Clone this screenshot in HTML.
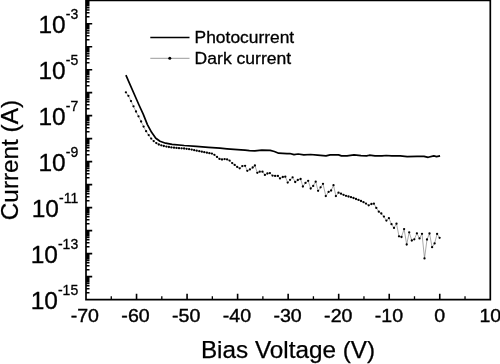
<!DOCTYPE html>
<html><head><meta charset="utf-8"><title>Current vs Bias Voltage</title>
<style>html,body{margin:0;padding:0;background:#fff;}body{width:500px;height:364px;overflow:hidden;}svg{display:block;}text{font-family:"Liberation Sans",Arial,Helvetica,sans-serif;fill:#000;}</style>
</head><body>
<svg width="500" height="364" viewBox="0 0 500 364">
<rect x="0" y="0" width="500" height="364" fill="#fff"/>
<g stroke="#000" stroke-width="1.7" fill="none" stroke-linecap="butt">
<path d="M85.15 0.5 H491.15000000000003 M490.3 0 V300.5 M85.15 299.65 H491.15000000000003 M86.0 0 V300.5"/>
</g>
<path d="M86.0 276.66 h6.2 M86.0 253.67 h6.2 M86.0 230.67 h6.2 M86.0 207.68 h6.2 M86.0 184.69 h6.2 M86.0 161.70 h6.2 M86.0 138.70 h6.2 M86.0 115.71 h6.2 M86.0 92.72 h6.2 M86.0 69.73 h6.2 M86.0 46.73 h6.2 M86.0 23.74 h6.2" stroke="#000" stroke-width="1.7" fill="none"/>
<path d="M86.0 292.73 h3.5 M86.0 288.68 h3.5 M86.0 285.81 h3.5 M86.0 283.58 h3.5 M86.0 281.76 h3.5 M86.0 280.22 h3.5 M86.0 278.89 h3.5 M86.0 277.71 h3.5 M86.0 269.74 h3.5 M86.0 265.69 h3.5 M86.0 262.81 h3.5 M86.0 260.59 h3.5 M86.0 258.77 h3.5 M86.0 257.23 h3.5 M86.0 255.89 h3.5 M86.0 254.72 h3.5 M86.0 246.74 h3.5 M86.0 242.70 h3.5 M86.0 239.82 h3.5 M86.0 237.59 h3.5 M86.0 235.77 h3.5 M86.0 234.23 h3.5 M86.0 232.90 h3.5 M86.0 231.73 h3.5 M86.0 223.75 h3.5 M86.0 219.70 h3.5 M86.0 216.83 h3.5 M86.0 214.60 h3.5 M86.0 212.78 h3.5 M86.0 211.24 h3.5 M86.0 209.91 h3.5 M86.0 208.73 h3.5 M86.0 200.76 h3.5 M86.0 196.71 h3.5 M86.0 193.84 h3.5 M86.0 191.61 h3.5 M86.0 189.79 h3.5 M86.0 188.25 h3.5 M86.0 186.92 h3.5 M86.0 185.74 h3.5 M86.0 177.77 h3.5 M86.0 173.72 h3.5 M86.0 170.85 h3.5 M86.0 168.62 h3.5 M86.0 166.80 h3.5 M86.0 165.26 h3.5 M86.0 163.92 h3.5 M86.0 162.75 h3.5 M86.0 154.77 h3.5 M86.0 150.73 h3.5 M86.0 147.85 h3.5 M86.0 145.63 h3.5 M86.0 143.80 h3.5 M86.0 142.27 h3.5 M86.0 140.93 h3.5 M86.0 139.76 h3.5 M86.0 131.78 h3.5 M86.0 127.73 h3.5 M86.0 124.86 h3.5 M86.0 122.63 h3.5 M86.0 120.81 h3.5 M86.0 119.27 h3.5 M86.0 117.94 h3.5 M86.0 116.76 h3.5 M86.0 108.79 h3.5 M86.0 104.74 h3.5 M86.0 101.87 h3.5 M86.0 99.64 h3.5 M86.0 97.82 h3.5 M86.0 96.28 h3.5 M86.0 94.95 h3.5 M86.0 93.77 h3.5 M86.0 85.80 h3.5 M86.0 81.75 h3.5 M86.0 78.88 h3.5 M86.0 76.65 h3.5 M86.0 74.83 h3.5 M86.0 73.29 h3.5 M86.0 71.96 h3.5 M86.0 70.78 h3.5 M86.0 62.81 h3.5 M86.0 58.76 h3.5 M86.0 55.88 h3.5 M86.0 53.66 h3.5 M86.0 51.84 h3.5 M86.0 50.30 h3.5 M86.0 48.96 h3.5 M86.0 47.79 h3.5 M86.0 39.81 h3.5 M86.0 35.76 h3.5 M86.0 32.89 h3.5 M86.0 30.66 h3.5 M86.0 28.84 h3.5 M86.0 27.30 h3.5 M86.0 25.97 h3.5 M86.0 24.79 h3.5 M86.0 16.82 h3.5 M86.0 12.77 h3.5 M86.0 9.90 h3.5 M86.0 7.67 h3.5 M86.0 5.85 h3.5 M86.0 4.31 h3.5 M86.0 2.98 h3.5 M86.0 1.80 h3.5" stroke="#000" stroke-width="1.5" fill="none"/>
<path d="M136.54 299.65 v-6 M187.07 299.65 v-6 M237.61 299.65 v-6 M288.15 299.65 v-6 M338.69 299.65 v-6 M389.23 299.65 v-6 M439.76 299.65 v-6" stroke="#000" stroke-width="1.6" fill="none"/>
<path d="M111.27 299.65 v-3.4 M161.81 299.65 v-3.4 M212.34 299.65 v-3.4 M262.88 299.65 v-3.4 M313.42 299.65 v-3.4 M363.96 299.65 v-3.4 M414.49 299.65 v-3.4 M465.03 299.65 v-3.4" stroke="#000" stroke-width="1.3" fill="none"/>
<text x="78.2" y="308.75" text-anchor="end" font-size="24.5" stroke="#000" stroke-width="0.3"><tspan>10</tspan><tspan font-size="14" dy="-13.5">-15</tspan></text>
<text x="78.2" y="262.77" text-anchor="end" font-size="24.5" stroke="#000" stroke-width="0.3"><tspan>10</tspan><tspan font-size="14" dy="-13.5">-13</tspan></text>
<text x="78.2" y="216.78" text-anchor="end" font-size="24.5" stroke="#000" stroke-width="0.3"><tspan>10</tspan><tspan font-size="14" dy="-13.5">-11</tspan></text>
<text x="78.2" y="170.80" text-anchor="end" font-size="24.5" stroke="#000" stroke-width="0.3"><tspan>10</tspan><tspan font-size="14" dy="-13.5">-9</tspan></text>
<text x="78.2" y="124.81" text-anchor="end" font-size="24.5" stroke="#000" stroke-width="0.3"><tspan>10</tspan><tspan font-size="14" dy="-13.5">-7</tspan></text>
<text x="78.2" y="78.83" text-anchor="end" font-size="24.5" stroke="#000" stroke-width="0.3"><tspan>10</tspan><tspan font-size="14" dy="-13.5">-5</tspan></text>
<text x="78.2" y="32.84" text-anchor="end" font-size="24.5" stroke="#000" stroke-width="0.3"><tspan>10</tspan><tspan font-size="14" dy="-13.5">-3</tspan></text>
<text x="84.85" y="321.8" text-anchor="middle" font-size="18.9" stroke="#000" stroke-width="0.4" textLength="28.3" lengthAdjust="spacingAndGlyphs">-70</text>
<text x="135.54" y="321.8" text-anchor="middle" font-size="18.9" stroke="#000" stroke-width="0.4" textLength="28.3" lengthAdjust="spacingAndGlyphs">-60</text>
<text x="186.22" y="321.8" text-anchor="middle" font-size="18.9" stroke="#000" stroke-width="0.4" textLength="28.3" lengthAdjust="spacingAndGlyphs">-50</text>
<text x="236.91" y="321.8" text-anchor="middle" font-size="18.9" stroke="#000" stroke-width="0.4" textLength="28.3" lengthAdjust="spacingAndGlyphs">-40</text>
<text x="287.60" y="321.8" text-anchor="middle" font-size="18.9" stroke="#000" stroke-width="0.4" textLength="28.3" lengthAdjust="spacingAndGlyphs">-30</text>
<text x="338.29" y="321.8" text-anchor="middle" font-size="18.9" stroke="#000" stroke-width="0.4" textLength="28.3" lengthAdjust="spacingAndGlyphs">-20</text>
<text x="388.98" y="321.8" text-anchor="middle" font-size="18.9" stroke="#000" stroke-width="0.4" textLength="28.3" lengthAdjust="spacingAndGlyphs">-10</text>
<text x="439.66" y="321.8" text-anchor="middle" font-size="18.9" stroke="#000" stroke-width="0.4" textLength="10.9" lengthAdjust="spacingAndGlyphs">0</text>
<text x="490.35" y="321.8" text-anchor="middle" font-size="18.9" stroke="#000" stroke-width="0.4" textLength="21.8" lengthAdjust="spacingAndGlyphs">10</text>
<text x="288" y="358" text-anchor="middle" font-size="24.3" stroke="#000" stroke-width="0.25">Bias Voltage (V)</text>
<text transform="translate(17.8 160.1) rotate(-90)" text-anchor="middle" font-size="24.3" stroke="#000" stroke-width="0.25">Current (A)</text>
<path d="M150.3 37.5 H189.5" stroke="#000" stroke-width="1.6" fill="none"/>
<path d="M150.3 58.3 H189.5" stroke="#555" stroke-width="0.6" fill="none"/>
<circle cx="169.8" cy="58.3" r="1.5" fill="#000"/>
<text x="194.6" y="42.6" font-size="16.6" stroke="#000" stroke-width="0.3" textLength="99.6" lengthAdjust="spacingAndGlyphs">Photocurrent</text>
<text x="194.6" y="64.1" font-size="16.6" stroke="#000" stroke-width="0.3" textLength="96.6" lengthAdjust="spacingAndGlyphs">Dark current</text>
<polyline fill="none" stroke="#000" stroke-width="1.7" stroke-linejoin="round" points="125.9,75.2 139.0,105.0 143.2,114.1 147.4,124.6 151.6,132.3 155.8,138.2 160.0,141.3 165.6,143.2 172.1,144.3 184.2,145.5 196.3,146.3 208.4,147.3 220.0,148.1 227.0,148.8 241.0,149.9 245.0,150.2 249.4,150.6 254.8,150.8 261.8,150.1 270.2,150.4 274.4,151.5 278.6,153.2 287.0,153.6 289.8,153.5 294.0,154.6 298.2,154.0 303.8,154.9 310.6,154.5 317.6,155.2 326.0,155.9 330.2,154.9 338.6,154.9 341.4,155.9 347.0,155.9 354.0,154.9 361.0,155.6 366.6,155.9 369.4,155.2 375.0,155.9 382.0,155.9 386.2,155.5 391.8,155.9 400.2,155.9 407.2,156.6 417.0,156.3 424.0,156.3 428.2,157.3 433.8,155.9 436.6,156.6 440.1,155.9"/>
<polyline fill="none" stroke="#555" stroke-width="0.5" points="125.9,92.3 128.4,95.8 131.0,101.1 133.5,106.3 136.0,111.5 138.5,116.3 141.1,121.5 143.6,126.6 146.1,131.2 148.7,135.1 151.2,138.6 153.7,141.1 156.3,143.1 158.8,144.5 161.3,145.3 163.8,146.0 166.4,146.6 168.9,147.0 171.4,147.4 174.0,147.7 176.5,147.9 179.0,148.2 181.6,148.3 184.1,148.5 186.6,148.8 189.1,149.2 191.7,149.6 194.2,150.2 196.7,150.7 199.3,151.2 201.8,151.7 204.3,152.2 206.9,152.7 209.4,153.2 211.9,153.6 214.4,154.8 217.0,156.9 219.5,158.9 222.0,159.5 224.6,159.1 227.1,159.4 229.6,160.6 232.2,163.1 234.7,164.9 237.2,166.9 239.7,168.3 242.3,166.1 245.1,165.8 247.3,170.8 249.9,169.4 252.7,167.5 254.9,165.5 257.3,172.8 259.7,171.7 262.5,171.7 264.9,174.9 267.4,173.5 269.9,173.1 272.5,175.6 275.1,175.9 277.9,175.9 280.0,178.4 282.8,177.0 285.3,176.7 287.7,182.6 290.1,179.8 292.6,177.3 295.2,182.0 297.8,180.0 300.6,179.0 302.9,186.5 305.5,182.9 308.2,180.8 310.7,188.5 313.2,185.9 315.7,181.7 318.1,190.8 320.6,187.3 323.0,183.8 325.8,196.1 328.6,191.9 331.1,190.5 333.5,185.2 335.9,196.1 338.5,192.7 341.0,193.7 343.5,194.8 346.0,195.8 348.5,196.5 351.0,197.2 353.5,198.0 356.0,199.0 358.5,199.9 361.0,201.0 363.5,202.2 366.0,203.6 368.7,205.3 371.4,204.0 373.9,203.7 376.3,207.9 378.8,211.7 381.3,213.5 383.9,216.6 386.4,220.6 388.9,218.2 391.5,224.2 394.0,227.9 396.5,223.7 399.0,236.3 401.5,237.0 404.1,229.1 406.7,244.5 409.2,232.3 411.8,240.5 414.3,239.3 416.9,233.3 419.5,238.4 422.0,233.8 424.5,258.4 427.0,239.5 429.5,233.5 432.1,247.2 434.6,243.4 437.1,233.9 439.6,237.8"/>
<g fill="#000">
<circle cx="125.9" cy="92.3" r="1.15"/>
<circle cx="128.4" cy="95.8" r="1.15"/>
<circle cx="131.0" cy="101.1" r="1.15"/>
<circle cx="133.5" cy="106.3" r="1.15"/>
<circle cx="136.0" cy="111.5" r="1.15"/>
<circle cx="138.5" cy="116.3" r="1.15"/>
<circle cx="141.1" cy="121.5" r="1.15"/>
<circle cx="143.6" cy="126.6" r="1.15"/>
<circle cx="146.1" cy="131.2" r="1.15"/>
<circle cx="148.7" cy="135.1" r="1.15"/>
<circle cx="151.2" cy="138.6" r="1.15"/>
<circle cx="153.7" cy="141.1" r="1.15"/>
<circle cx="156.3" cy="143.1" r="1.15"/>
<circle cx="158.8" cy="144.5" r="1.15"/>
<circle cx="161.3" cy="145.3" r="1.15"/>
<circle cx="163.8" cy="146.0" r="1.15"/>
<circle cx="166.4" cy="146.6" r="1.15"/>
<circle cx="168.9" cy="147.0" r="1.15"/>
<circle cx="171.4" cy="147.4" r="1.15"/>
<circle cx="174.0" cy="147.7" r="1.15"/>
<circle cx="176.5" cy="147.9" r="1.15"/>
<circle cx="179.0" cy="148.2" r="1.15"/>
<circle cx="181.6" cy="148.3" r="1.15"/>
<circle cx="184.1" cy="148.5" r="1.15"/>
<circle cx="186.6" cy="148.8" r="1.15"/>
<circle cx="189.1" cy="149.2" r="1.15"/>
<circle cx="191.7" cy="149.6" r="1.15"/>
<circle cx="194.2" cy="150.2" r="1.15"/>
<circle cx="196.7" cy="150.7" r="1.15"/>
<circle cx="199.3" cy="151.2" r="1.15"/>
<circle cx="201.8" cy="151.7" r="1.15"/>
<circle cx="204.3" cy="152.2" r="1.15"/>
<circle cx="206.9" cy="152.7" r="1.15"/>
<circle cx="209.4" cy="153.2" r="1.15"/>
<circle cx="211.9" cy="153.6" r="1.15"/>
<circle cx="214.4" cy="154.8" r="1.15"/>
<circle cx="217.0" cy="156.9" r="1.15"/>
<circle cx="219.5" cy="158.9" r="1.15"/>
<circle cx="222.0" cy="159.5" r="1.15"/>
<circle cx="224.6" cy="159.1" r="1.15"/>
<circle cx="227.1" cy="159.4" r="1.15"/>
<circle cx="229.6" cy="160.6" r="1.15"/>
<circle cx="232.2" cy="163.1" r="1.15"/>
<circle cx="234.7" cy="164.9" r="1.15"/>
<circle cx="237.2" cy="166.9" r="1.15"/>
<circle cx="239.7" cy="168.3" r="1.15"/>
<circle cx="242.3" cy="166.1" r="1.15"/>
<circle cx="245.1" cy="165.8" r="1.15"/>
<circle cx="247.3" cy="170.8" r="1.15"/>
<circle cx="249.9" cy="169.4" r="1.15"/>
<circle cx="252.7" cy="167.5" r="1.15"/>
<circle cx="254.9" cy="165.5" r="1.15"/>
<circle cx="257.3" cy="172.8" r="1.15"/>
<circle cx="259.7" cy="171.7" r="1.15"/>
<circle cx="262.5" cy="171.7" r="1.15"/>
<circle cx="264.9" cy="174.9" r="1.15"/>
<circle cx="267.4" cy="173.5" r="1.15"/>
<circle cx="269.9" cy="173.1" r="1.15"/>
<circle cx="272.5" cy="175.6" r="1.15"/>
<circle cx="275.1" cy="175.9" r="1.15"/>
<circle cx="277.9" cy="175.9" r="1.15"/>
<circle cx="280.0" cy="178.4" r="1.15"/>
<circle cx="282.8" cy="177.0" r="1.15"/>
<circle cx="285.3" cy="176.7" r="1.15"/>
<circle cx="287.7" cy="182.6" r="1.15"/>
<circle cx="290.1" cy="179.8" r="1.15"/>
<circle cx="292.6" cy="177.3" r="1.15"/>
<circle cx="295.2" cy="182.0" r="1.15"/>
<circle cx="297.8" cy="180.0" r="1.15"/>
<circle cx="300.6" cy="179.0" r="1.15"/>
<circle cx="302.9" cy="186.5" r="1.15"/>
<circle cx="305.5" cy="182.9" r="1.15"/>
<circle cx="308.2" cy="180.8" r="1.15"/>
<circle cx="310.7" cy="188.5" r="1.15"/>
<circle cx="313.2" cy="185.9" r="1.15"/>
<circle cx="315.7" cy="181.7" r="1.15"/>
<circle cx="318.1" cy="190.8" r="1.15"/>
<circle cx="320.6" cy="187.3" r="1.15"/>
<circle cx="323.0" cy="183.8" r="1.15"/>
<circle cx="325.8" cy="196.1" r="1.15"/>
<circle cx="328.6" cy="191.9" r="1.15"/>
<circle cx="331.1" cy="190.5" r="1.15"/>
<circle cx="333.5" cy="185.2" r="1.15"/>
<circle cx="335.9" cy="196.1" r="1.15"/>
<circle cx="338.5" cy="192.7" r="1.15"/>
<circle cx="341.0" cy="193.7" r="1.15"/>
<circle cx="343.5" cy="194.8" r="1.15"/>
<circle cx="346.0" cy="195.8" r="1.15"/>
<circle cx="348.5" cy="196.5" r="1.15"/>
<circle cx="351.0" cy="197.2" r="1.15"/>
<circle cx="353.5" cy="198.0" r="1.15"/>
<circle cx="356.0" cy="199.0" r="1.15"/>
<circle cx="358.5" cy="199.9" r="1.15"/>
<circle cx="361.0" cy="201.0" r="1.15"/>
<circle cx="363.5" cy="202.2" r="1.15"/>
<circle cx="366.0" cy="203.6" r="1.15"/>
<circle cx="368.7" cy="205.3" r="1.15"/>
<circle cx="371.4" cy="204.0" r="1.15"/>
<circle cx="373.9" cy="203.7" r="1.15"/>
<circle cx="376.3" cy="207.9" r="1.15"/>
<circle cx="378.8" cy="211.7" r="1.15"/>
<circle cx="381.3" cy="213.5" r="1.15"/>
<circle cx="383.9" cy="216.6" r="1.15"/>
<circle cx="386.4" cy="220.6" r="1.15"/>
<circle cx="388.9" cy="218.2" r="1.15"/>
<circle cx="391.5" cy="224.2" r="1.15"/>
<circle cx="394.0" cy="227.9" r="1.15"/>
<circle cx="396.5" cy="223.7" r="1.15"/>
<circle cx="399.0" cy="236.3" r="1.15"/>
<circle cx="401.5" cy="237.0" r="1.15"/>
<circle cx="404.1" cy="229.1" r="1.15"/>
<circle cx="406.7" cy="244.5" r="1.15"/>
<circle cx="409.2" cy="232.3" r="1.15"/>
<circle cx="411.8" cy="240.5" r="1.15"/>
<circle cx="414.3" cy="239.3" r="1.15"/>
<circle cx="416.9" cy="233.3" r="1.15"/>
<circle cx="419.5" cy="238.4" r="1.15"/>
<circle cx="422.0" cy="233.8" r="1.15"/>
<circle cx="424.5" cy="258.4" r="1.15"/>
<circle cx="427.0" cy="239.5" r="1.15"/>
<circle cx="429.5" cy="233.5" r="1.15"/>
<circle cx="432.1" cy="247.2" r="1.15"/>
<circle cx="434.6" cy="243.4" r="1.15"/>
<circle cx="437.1" cy="233.9" r="1.15"/>
<circle cx="439.6" cy="237.8" r="1.15"/>
</g>
</svg>
</body></html>
